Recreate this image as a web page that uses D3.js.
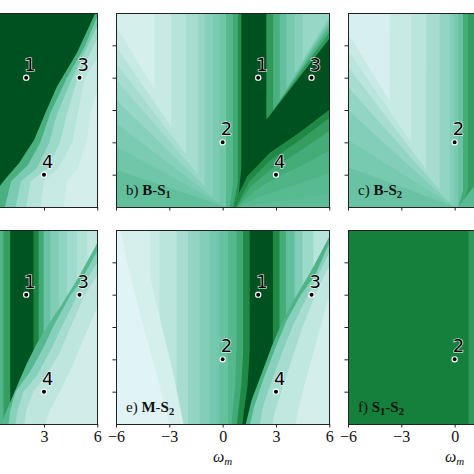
<!DOCTYPE html>
<html lang="en">
  <head>
    <meta charset="utf-8">
    <title>Phase maps</title>
    <script src="https://cdn.jsdelivr.net/npm/d3@7"></script>
    <style>
      body { margin: 0; background: #fff; }
      svg { display: block; }
    </style>
  </head>
  <body>
    <script>

    var omegaTicks = [-6, -3, 0, 3, 6];
    var yTicks = [1, 2, 3, 4, 5];

    var markers = [
      {id: "1", w: 2, y: 4},
      {id: "2", w: 0, y: 2},
      {id: "3", w: 5, y: 4},
      {id: "4", w: 3, y: 1}
    ];

    // stripes: [left edge in omega, level], each painted to the right border
    var stripesA = [[-6, 0.96]];
    var stripesB = [[-6, 0.52]];
    var stripesC = [[-6, 0.5]];
    var stripesD = [[-6, 0.5], [0.0, 0.57], [0.72, 0.68], [1.1, 0.95], [2.41, 0.78], [2.7, 0.63],
                    [2.98, 0.5], [3.35, 0.44], [3.82, 0.4], [4.29, 0.36], [4.85, 0.32], [5.42, 0.28]];
    var stripesE = [[-6, 0.2], [-4.1, 0.25], [-3.55, 0.29], [-2.6, 0.34], [-1.95, 0.39], [-1.3, 0.43],
                    [-0.73, 0.47], [-0.17, 0.51], [0.3, 0.56], [0.77, 0.63], [1.15, 0.76], [1.52, 0.96],
                    [2.83, 0.76], [3.2, 0.62], [3.57, 0.52], [4.05, 0.43], [4.5, 0.37], [5.1, 0.3]];
    var stripesF = [[-6, 0.8], [0.78, 0.7]];

    // filled contour regions (omega, y), painted in order
    var layersA = [
      {v: 0.6,  p: [[5.89,6],[4.85,4.76],[3.73,3.73],[3.07,2.9],[2.45,2.08],[1.6,1.36],[0.8,0.85],[0.3,0.5],[-0.5,0],[6,0],[6,6]]},
      {v: 0.45, p: [[6,5.9],[5.3,4.97],[4.3,4.0],[3.35,2.9],[2.8,2.0],[2.1,1.3],[1.15,0.8],[0.8,0],[6,0]]},
      {v: 0.37, p: [[6,5.6],[4.6,4.0],[3.75,2.9],[3.3,2.0],[2.6,1.2],[1.7,0.8],[1.4,0],[6,0]]},
      {v: 0.3,  p: [[6,5.2],[4.9,4.0],[4.3,2.9],[3.9,2.0],[3.2,1.2],[2.25,0.8],[2.0,0],[6,0]]},
      {v: 0.25, p: [[6,4.6],[5.3,4.0],[4.9,2.9],[4.6,2.0],[3.8,1.2],[3.0,0.8],[2.8,0],[6,0]]},
      {v: 0.21, p: [[6,3.6],[5.6,2.9],[5.4,2.0],[4.9,1.2],[4.3,0.8],[4.1,0],[6,0]]}
    ];

    var layersB = [
      {v: 0.48, p: [[-6,6],[0.2,6],[0.2,0],[-6,1.15]]},
      {v: 0.45, p: [[-6,6],[-0.18,6],[-0.18,0.12],[-6,1.88]]},
      {v: 0.42, p: [[-6,6],[-0.55,6],[-0.55,0.31],[-6,2.6]]},
      {v: 0.38, p: [[-6,6],[-1.02,6],[-1.02,0.65],[-6,3.32]]},
      {v: 0.34, p: [[-6,6],[-1.4,6],[-1.4,1.02],[-6,3.94]]},
      {v: 0.3,  p: [[-6,6],[-2.06,6],[-2.06,1.62],[-6,4.45]]},
      {v: 0.25, p: [[-6,6],[-2.9,6],[-2.9,2.49],[-6,4.97]]},
      {v: 0.2,  p: [[-6,6],[-3.84,6],[-3.84,3.64],[-6,5.59]]},
      {v: 0.56, p: [[0.2,6],[6,6],[6,0],[0.2,0]]},
      {v: 0.63, p: [[0.58,6],[6,6],[6,0],[0.4,0],[0.58,0.7]]},
      {v: 0.74, p: [[0.86,6],[6,6],[6,0],[0.6,0],[0.86,0.8]]},
      {v: 0.96, p: [[1.05,6],[6,6],[6,3.0],[4.3,2.29],[2.65,1.67],[1.4,0.95],[0.9,0.4],[1.05,1.2]]},
      {v: 0.76, p: [[0.7,0],[0.9,0.4],[1.4,0.95],[2.65,1.67],[4.3,2.29],[6,3.0],[6,0]]},
      {v: 0.68, p: [[0.75,0],[1.5,0.8],[2.7,1.45],[4.3,2.05],[6,2.75],[6,0]]},
      {v: 0.62, p: [[0.8,0],[1.6,0.65],[2.8,1.2],[4.4,1.75],[6,2.35],[6,0]]},
      {v: 0.58, p: [[0.85,0],[1.8,0.5],[3.0,0.9],[4.5,1.3],[6,1.75],[6,0]]},
      {v: 0.55, p: [[0.9,0],[2.0,0.3],[3.3,0.55],[4.7,0.8],[6,1.05],[6,0]]},
      {v: 0.53, p: [[1.0,0],[3.5,0.2],[6,0.4],[6,0]]},
      {v: 0.7,  p: [[2.46,6],[6,6],[6,5.2],[2.46,2.7]]},
      {v: 0.6,  p: [[2.84,6],[6,6],[6,5.4],[2.84,2.99]]},
      {v: 0.52, p: [[3.21,6],[6,6],[6,5.55],[3.21,3.3]]},
      {v: 0.46, p: [[3.59,6],[6,6],[6,5.7],[3.59,3.66]]},
      {v: 0.42, p: [[4.06,6],[6,6],[6,5.8],[4.06,4.1]]},
      {v: 0.38, p: [[4.52,6],[6,6],[6,5.9],[4.52,4.56]]}
    ];

    var layersC = [
      {v: 0.62, p: [[0.47,6],[2,6],[2,0],[0.2,0],[0.47,0.5]]},
      {v: 0.68, p: [[0.75,6],[2,6],[2,0],[0.45,0],[0.75,0.6]]},
      {v: 0.55, p: [[0.2,0],[2,1.3],[2,0]]},
      {v: 0.46, p: [[-6,6],[0.19,6],[0.19,0],[0.03,0],[-6,1.24]]},
      {v: 0.43, p: [[-6,6],[-0.05,6],[-0.05,0.03],[-6,2.07]]},
      {v: 0.39, p: [[-6,6],[-0.28,6],[-0.28,0.15],[-6,3.0]]},
      {v: 0.34, p: [[-6,6],[-0.85,6],[-0.85,0.54],[-6,3.72]]},
      {v: 0.29, p: [[-6,6],[-1.6,6],[-1.6,1.17],[-6,4.34]]},
      {v: 0.25, p: [[-6,6],[-2.44,6],[-2.44,1.99],[-6,4.85]]},
      {v: 0.19, p: [[-6,6],[-3.66,6],[-3.66,3.29],[-6,5.37]]}
    ];

    var layersD = [
      {v: 0.56, p: [[6,5.6],[5.79,5.38],[4.85,4.45],[3.92,3.63],[3.16,3.0],[2.6,2.49],[2.04,1.88],[1.47,1.15],[0.91,0.43],[0.6,0],[6,0]]},
      {v: 0.42, p: [[6,5.35],[5.0,4.35],[4.5,4.0],[3.6,3.1],[2.9,2.3],[2.2,1.6],[1.4,1.0],[1.1,0.4],[1.0,0],[6,0]]},
      {v: 0.34, p: [[6,5.0],[4.9,4.0],[4.0,3.0],[3.3,2.2],[2.6,1.5],[1.85,1.0],[1.5,0.4],[1.4,0],[6,0]]},
      {v: 0.28, p: [[6,4.6],[5.3,4.0],[4.5,3.0],[3.8,2.1],[3.1,1.5],[2.4,1.0],[2.0,0.4],[1.9,0],[6,0]]},
      {v: 0.22, p: [[6,3.6],[5.2,2.6],[4.6,1.8],[3.9,1.0],[3.3,0.4],[3.1,0],[6,0]]}
    ];

    var layersE = [
      {v: 0.63, p: [[0.77,2.2],[1.15,2.2],[1.05,1.2],[0.8,0],[0.5,0],[0.7,1.2]]},
      {v: 0.76, p: [[1.15,2.2],[1.52,2.2],[1.4,1.2],[1.1,0],[0.8,0],[1.05,1.2]]},
      {v: 0.96, p: [[1.52,2.2],[2.9,2.2],[2.9,0],[1.1,0],[1.4,1.2]]},
      {v: 0.58, p: [[6,5.8],[5.01,4.76],[3.89,3.73],[3.23,3.0],[2.76,2.4],[2.2,1.57],[1.63,0.74],[1.3,0],[6,0]]},
      {v: 0.42, p: [[6,5.6],[5.2,4.6],[4.4,4.0],[3.6,3.2],[3.0,2.4],[2.3,1.4],[1.75,0.5],[1.55,0],[6,0]]},
      {v: 0.34, p: [[6,5.3],[4.8,4.0],[4.0,3.1],[3.4,2.3],[2.8,1.4],[2.3,0.6],[2.1,0],[6,0]]},
      {v: 0.27, p: [[6,4.9],[5.2,4.0],[4.5,3.0],[3.9,2.0],[3.3,1.0],[2.9,0.3],[2.8,0],[6,0]]},
      {v: 0.21, p: [[6,4.0],[5.5,3.0],[5.0,2.0],[4.5,1.0],[4.2,0.3],[4.1,0],[6,0]]},
      {v: 0.2,  p: [[-6,6],[-4.1,6],[-4.1,4.6],[-3.5,3.2],[-2.8,1.6],[-2.2,0],[-6,0]]},
      {v: 0.14, p: [[-6,6],[-5.75,6],[-5.3,4.8],[-4.6,3.3],[-3.8,1.7],[-3.0,0],[-6,0]]}
    ];

    var layersF = [];

    var titleB = [{t: "b) "}, {t: "B", b: 1}, {t: "-"}, {t: "S", b: 1}, {t: "1", b: 1, sub: 1}];
    var titleC = [{t: "c) "}, {t: "B", b: 1}, {t: "-"}, {t: "S", b: 1}, {t: "2", b: 1, sub: 1}];
    var titleE = [{t: "e) "}, {t: "M", b: 1}, {t: "-"}, {t: "S", b: 1}, {t: "2", b: 1, sub: 1}];
    var titleF = [{t: "f) "}, {t: "S", b: 1}, {t: "1", b: 1, sub: 1}, {t: "-"}, {t: "S", b: 1}, {t: "2", b: 1, sub: 1}];

    var panels = [
      {id: "a", col: 0, row: 0, stripes: stripesA, layers: layersA, title: null},
      {id: "b", col: 1, row: 0, stripes: stripesB, layers: layersB, title: titleB},
      {id: "c", col: 2, row: 0, stripes: stripesC, layers: layersC, title: titleC},
      {id: "d", col: 0, row: 1, stripes: stripesD, layers: layersD, title: null},
      {id: "e", col: 1, row: 1, stripes: stripesE, layers: layersE, title: titleE},
      {id: "f", col: 2, row: 1, stripes: stripesF, layers: layersF, title: titleF}
    ];

    var W = 213.3, H = 194;
    var colLeft = [-116, 116, 348];
    var rowTop = [13, 230];
    var serif = "'Liberation Serif', 'Times New Roman', serif";

    var svg = d3.select("body").append("svg")
                .attr("width", 474)
                .attr("height", 474);

    var color = d3.scaleSequential(d3.interpolateBuGn).domain([0, 1]);

    panels.forEach(function(pn) {
      var left = colLeft[pn.col], top = rowTop[pn.row];
      var x = d3.scaleLinear().domain([-6, 6]).range([left, left + W]);
      var y = d3.scaleLinear().domain([0, 6]).range([top + H, top]);

      svg.append("clipPath").attr("id", "clip-" + pn.id)
         .append("rect").attr("x", left).attr("y", top).attr("width", W).attr("height", H);

      var g = svg.append("g").attr("clip-path", "url(#clip-" + pn.id + ")");

      g.selectAll("rect")
       .data(pn.stripes)
       .enter().append("rect")
       .attr("x", function(d) { return x(d[0]); })
       .attr("y", top)
       .attr("width", function(d) { return x(6) - x(d[0]) + 1; })
       .attr("height", H)
       .attr("fill", function(d) { return color(d[1]); });

      var line = d3.line().x(function(d) { return x(d[0]); }).y(function(d) { return y(d[1]); });

      g.selectAll("path")
       .data(pn.layers)
       .enter().append("path")
       .attr("d", function(d) { return line(d.p) + "Z"; })
       .attr("fill", function(d) { return color(d.v); });

      // axes, ticks out
      var xa = svg.append("g")
                  .attr("transform", "translate(0," + (top + H) + ")")
                  .call(d3.axisBottom(x).tickValues(omegaTicks).tickSize(3.5).tickPadding(3.5)
                          .tickFormat(pn.row == 1 ? d3.format("d") : ""));
      xa.select(".domain").remove();
      xa.selectAll("line").attr("stroke", "#222");
      xa.selectAll("text").attr("font-family", serif).attr("font-size", 16).attr("fill", "#111");

      var ya = svg.append("g")
                  .attr("transform", "translate(" + left + ",0)")
                  .call(d3.axisLeft(y).tickValues(yTicks).tickSize(3.5).tickFormat(""));
      ya.select(".domain").remove();
      ya.selectAll("line").attr("stroke", "#222");

      svg.append("rect")
         .attr("x", left).attr("y", top).attr("width", W).attr("height", H)
         .attr("fill", "none").attr("stroke", "#222").attr("stroke-width", 1)
         .attr("shape-rendering", "crispEdges");

      if (pn.row == 1) {
        var lab = svg.append("text")
                     .attr("x", left + W / 2).attr("y", 462)
                     .attr("text-anchor", "middle")
                     .attr("font-family", serif).attr("font-style", "italic")
                     .attr("font-size", 16).attr("fill", "#111");
        lab.append("tspan").text("\u03c9");
        lab.append("tspan").attr("font-size", 11).attr("dy", 3).text("m");
      }

      if (pn.title) {
        var tt = svg.append("text")
                    .attr("x", left + 10).attr("y", top + H - 12)
                    .attr("font-family", serif).attr("font-size", 15).attr("fill", "#111");
        var wasSub = false;
        pn.title.forEach(function(s) {
          var dy = 0;
          if (s.sub && !wasSub) dy = 3;
          if (!s.sub && wasSub) dy = -3;
          tt.append("tspan")
            .attr("dy", dy)
            .attr("font-weight", s.b ? "bold" : "normal")
            .attr("font-size", s.sub ? 10.5 : 15)
            .text(s.t);
          wasSub = !!s.sub;
        });
      }

      var mk = svg.append("g");
      mk.selectAll("circle")
        .data(markers)
        .enter().append("circle")
        .attr("cx", function(d) { return x(d.w); })
        .attr("cy", function(d) { return y(d.y); })
        .attr("r", 2.6)
        .attr("fill", "#000")
        .attr("stroke", "#fff")
        .attr("stroke-width", 1.2);

      mk.selectAll("text")
        .data(markers)
        .enter().append("text")
        .attr("x", function(d) { return x(d.w) - 2; })
        .attr("y", function(d) { return y(d.y) - 7; })
        .attr("font-family", "'DejaVu Sans', sans-serif")
        .attr("font-size", 18)
        .attr("fill", "#000")
        .attr("stroke", "#fff")
        .attr("stroke-width", 1.2)
        .attr("paint-order", "stroke")
        .text(function(d) { return d.id; });
    });

    // the figure is cropped at both sides: drop texts that fall outside the frame
    var frame = svg.node().getBoundingClientRect();
    svg.selectAll("text").each(function() {
      var b = this.getBoundingClientRect();
      if (b.left < frame.left || b.right > frame.right) d3.select(this).remove();
    });
    </script>
  </body>
</html>
